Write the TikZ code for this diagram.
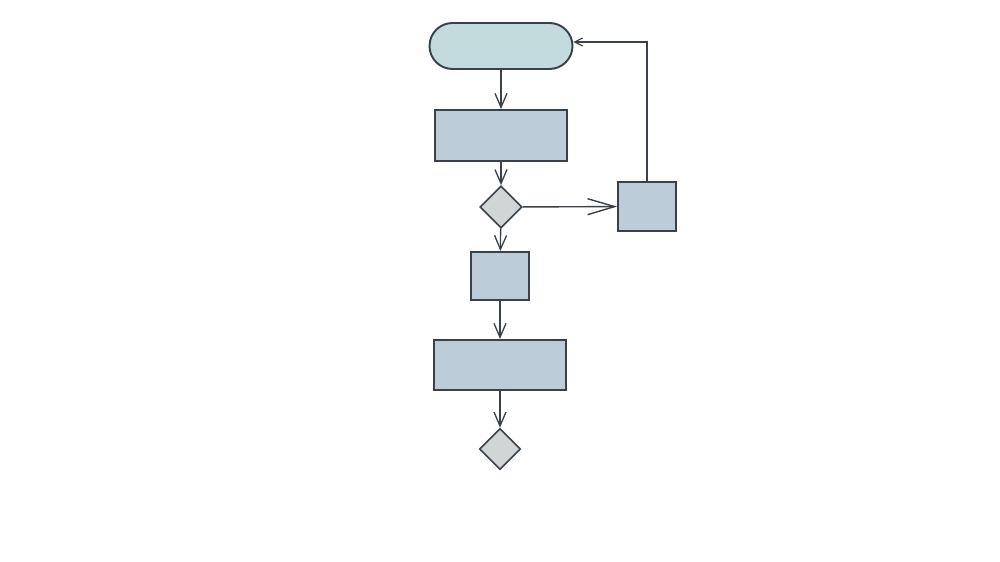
\documentclass[tikz,border=0pt]{standalone}
\usepackage{xcolor}
\usepackage{tikz}
\usetikzlibrary{shapes.geometric,arrows.meta,positioning}

\definecolor{linegray}{HTML}{3B4149}
\definecolor{termfill}{HTML}{C4DBDD}
\definecolor{boxfill}{HTML}{BCCCD8}
\definecolor{decfill}{HTML}{D2D5D5}

\tikzset{
    term/.style={rectangle, rounded corners=4.6mm, draw=linegray, line width=1.1pt, fill=termfill, minimum width=2.86cm, minimum height=0.92cm},
    proc/.style={rectangle, draw=linegray, line width=1.1pt, fill=boxfill},
    dec/.style={diamond, draw=linegray, line width=0.9pt, fill=decfill, minimum width=0.84cm, minimum height=0.84cm, inner sep=0pt},
    flow/.style={draw=linegray, line width=0.75pt, -{Straight Barb[length=2.8mm, width=2.4mm]}},
    bigflow/.style={draw=linegray, line width=0.8pt, -{Straight Barb[length=5.4mm, width=3.2mm]}},
    backflow/.style={draw=linegray, line width=0.6pt, -{Straight Barb[length=1.6mm, width=1.6mm]}}
}

\begin{document}
\begin{tikzpicture}
    \useasboundingbox (0,0) rectangle (20,-11.24);
    \fill[white] (0,0) rectangle (20,-11.24);

    % Main column
    \node[term] (start) at (10.02,-0.92) {};
    \node[proc, minimum width=2.64cm, minimum height=1.02cm] (read) at (10.02,-2.71) {};
    \node[dec] (check) at (10.02,-4.14) {};
    \node[proc, minimum width=1.16cm, minimum height=0.96cm] (step) at (10.0,-5.52) {};
    \node[proc, minimum width=2.64cm, minimum height=1.0cm] (output) at (10.0,-7.3) {};
    \node[dec, minimum width=0.82cm, minimum height=0.82cm] (done) at (10.0,-8.98) {};

    % Side branch
    \node[proc, minimum width=1.16cm, minimum height=0.98cm] (retry) at (12.94,-4.13) {};

    % Arrows
    \draw[flow] (start) -- (read);
    \draw[flow] (read) -- (check);
    \draw[flow] (check) -- (step);
    \draw[flow] (step) -- (output);
    \draw[flow] (output) -- (done);
    \draw[bigflow] (check) -- (retry);
    \draw[backflow] (retry.north) |- ([yshift=0.08cm]start.east);
\end{tikzpicture}
\end{document}
